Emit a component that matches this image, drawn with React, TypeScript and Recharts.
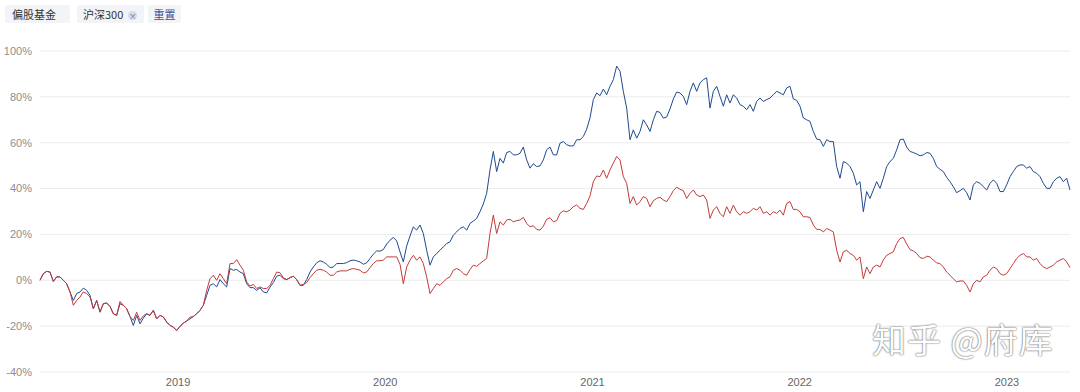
import React from 'react';
import { LineChart, Line, XAxis, YAxis, CartesianGrid } from 'recharts';

// weekly samples, cumulative return in %
const fundReturns = [
  0, 2.9, 3.9, 3.6, -0.5, 1.5, 1.5, 0, -1.5, -5.1,
  -8.8, -5.8, -5.1, -3.4, -4.4, -6.6, -12.4, -8.8, -13.9, -10.2,
  -9.9, -11.4, -14.6, -15.3, -10.2, -10.9, -12.4, -15.8, -19.7, -15.3,
  -19.0, -16.5, -14.6, -15.3, -13.1, -16.8, -15.3, -16.0, -18.2, -19.7,
  -20.4, -21.9, -20.1, -18.7, -17.8, -16.8, -15.8, -14.6, -13.1, -10.9,
  -6.6, -2.2, -1.5, -2.9, 0.3, -1.5, -2.9, 5.1, 4.4, 4.7,
  3.6, 2.9,
  -1.5, -3.2, -3.2, -4.4, -3.3, -5.1, -5.5, -3.0, -1.0, 1.8,
  2.2, 0.7, 0.3, 1.2, 1.8, 0.3, -2.2, -2.2, 0.3, 3.6,
  5.8, 7.6, 8.5, 8.0, 7.0, 5.5, 5.8, 7.3, 7.3, 7.3,
  7.7, 8.5, 8.8, 8.5, 8.0, 7.0, 7.6, 9.5, 11.4, 12.8,
  12.7, 13.4, 15.8, 17.5, 18.7, 17.2, 12.4, 8.0, 14.9, 19.3,
  23.3, 21.9, 24.1, 20.4, 13.1, 6.6, 10.2, 11.7, 13.1, 14.6,
  16.0,
  16.8, 19.7, 21.1, 22.6, 23.3, 21.9, 24.8, 25.8, 27.0, 29.9,
  33.3, 37.9, 48.1, 56.2, 47.4, 53.2, 51.1, 55.7, 56.2, 54.7,
  54.7, 55.4, 58.1, 52.5, 48.9, 50.8, 49.6, 49.9, 52.5, 56.9,
  58.1, 54.7, 54.7, 59.8, 60.5, 59.1, 58.6, 58.6, 61.3, 61.3,
  62.7, 65.9, 70.8, 78.8, 81.7, 80.5, 83.4, 80.9, 84.6, 87.5,
  93.4, 91.2, 82.4, 75.1, 61.3, 65.6, 62.0, 64.9, 70.0, 67.8,
  64.9, 70.0,
  73.7, 73.2, 70.7, 71.2, 74.7, 79.1, 82.1, 81.7, 80.2, 76.6,
  82.4, 86.1, 82.4, 86.1, 87.5, 88.3, 75.1, 82.4, 84.6, 80.2,
  75.9, 80.9, 77.3, 80.9, 79.5, 76.6, 75.9, 74.4, 76.6, 73.7,
  78.0, 79.5, 78.0, 78.8, 79.5, 80.9, 82.4, 81.7, 80.9, 83.9,
  84.6, 79.1, 78.5, 75.9, 70.8, 70.0, 69.3, 64.9, 61.6, 61.3,
  58.4, 61.3, 60.5, 60.5, 49.6, 44.5, 51.8, 51.1, 49.6, 46.7,
  41.6,
  43.0, 29.9, 38.7, 35.7, 39.4, 43.0, 40.1, 44.5, 49.6, 51.8,
  53.2, 56.9, 61.3, 61.6, 58.1, 56.2, 55.7, 55.1, 54.3, 54.7,
  55.7, 55.4, 53.2, 49.6, 48.4, 47.4, 44.9, 43.0, 40.8, 38.2,
  39.1, 40.1, 38.2, 35.0, 41.6, 43.0, 42.3, 40.8, 39.4, 42.3,
  43.8, 42.3, 38.7, 38.7, 41.6, 45.2, 47.4, 49.6, 50.3, 50.3,
  48.9, 49.6, 47.4, 46.7, 45.2, 42.3, 40.1, 40.1, 43.0, 44.5,
  45.2, 43.0, 44.5, 39.4,
];

const hs300Returns = [
  0, 2.9, 3.9, 3.6, -0.5, 1.5, 1.5, 0, -1.5, -5.1,
  -10.9, -8.8, -7.3, -5.1, -5.8, -7.3, -12.4, -8.8, -13.9, -10.2,
  -9.9, -11.4, -14.6, -15.3, -9.2, -10.9, -12.4, -15.8, -17.5, -13.9,
  -17.5, -15.5, -14.6, -15.3, -13.1, -16.8, -15.3, -16.0, -18.2, -19.7,
  -20.4, -21.9, -20.1, -18.7, -17.8, -16.1, -15.8, -14.6, -13.1, -10.9,
  -4.4, 0.7, 2.2, 0, 2.9, 0.7, -1.5, 7.3, 7.3, 9.0,
  6.6, 4.4,
  -0.7, -2.5, -1.8, -3.6, -2.9, -3.6, -3.6, -2.2, 0.7, 3.6,
  3.3, 1.1, 0.3, 1.1, 1.8, 0.3, -2.2, -1.8, -1.0, 1.2,
  2.9, 4.4, 4.8, 4.4, 3.6, 2.2, 2.2, 3.6, 4.1, 4.1,
  4.1, 4.8, 5.1, 4.8, 4.4, 3.2, 3.6, 5.5, 7.3, 8.5,
  8.5, 8.8, 10.2, 10.2, 10.2, 10.2, 7.0, -1.5, 5.8, 8.8,
  10.9, 8.8, 10.2, 7.3, 1.5, -5.8, -3.6, -1.5, -2.2, -0.7,
  0.7,
  1.5, 4.4, 5.1, 4.4, 2.9, 2.2, 4.7, 6.6, 6.1, 7.3,
  8.5, 9.5, 20.4, 28.4, 20.4, 25.5, 24.1, 26.3, 26.6, 25.5,
  26.0, 26.3, 27.4, 24.8, 23.3, 23.8, 22.2, 21.9, 23.6, 26.6,
  27.3, 25.5, 26.0, 29.2, 30.3, 29.9, 30.6, 32.1, 32.8, 31.4,
  30.9, 33.5, 36.8, 43.0, 45.5, 45.2, 48.1, 44.5, 48.1, 51.1,
  54.0, 52.5, 45.2, 42.3, 33.5, 36.5, 32.8, 34.3, 36.5, 35.7,
  32.1, 34.7,
  35.7, 36.2, 35.0, 34.3, 36.5, 39.1, 40.6, 39.7, 39.1, 35.7,
  37.9, 39.4, 37.2, 36.5, 37.2, 35.0, 27.0, 30.6, 32.1, 29.2,
  27.7, 32.1, 29.2, 32.8, 29.9, 28.4, 29.9, 29.2, 29.9, 31.4,
  30.6, 32.1, 29.2, 29.9, 28.4, 29.9, 29.2, 30.6, 28.4, 33.5,
  34.3, 30.9, 30.9, 29.9, 27.7, 27.7, 27.4, 24.1, 22.2, 22.2,
  21.1, 22.6, 21.9, 21.1, 13.1, 8.0, 12.4, 13.1, 11.7, 10.9,
  8.8,
  10.2, 0.7, 5.8, 2.9, 5.8, 6.6, 5.8, 8.8, 10.9, 11.7,
  12.4, 16.0, 18.2, 18.7, 15.8, 13.4, 12.8, 11.7, 9.9, 9.5,
  10.5, 10.2, 8.8, 7.6, 7.3, 5.8, 3.6, 2.2, 0.7, -0.7,
  -0.3, -0.3, -2.2, -5.1, -1.5, 0, -0.7, 1.5, 2.2, 4.4,
  5.8, 5.1, 2.9, 2.2, 2.9, 5.1, 7.3, 9.5, 10.9, 11.7,
  10.2, 10.2, 8.8, 9.5, 7.3, 5.8, 5.1, 5.8, 6.6, 8.0,
  8.8, 9.5, 8.0, 5.5,
];

const startYear = 2018.334;
const endYear = 2023.304;
const yearTicks = [2019, 2020, 2021, 2022, 2023];
const pctTicks = [-40, -20, 0, 20, 40, 60, 80, 100];

const step = (endYear - startYear) / (fundReturns.length - 1);
const data = fundReturns.map((v, i) => ({
  t: startYear + i * step,
  fund: v,
  hs300: hs300Returns[i],
}));

const pill: React.CSSProperties = {
  position: 'absolute',
  top: 5,
  height: 18,
  lineHeight: '18px',
  fontSize: 11,
  background: '#f2f4f8',
  borderRadius: 2,
  color: '#333',
  whiteSpace: 'nowrap',
  boxSizing: 'border-box',
};

export default function App() {
  return (
    <div
      style={{
        position: 'absolute',
        left: 0,
        top: 0,
        width: 1080,
        height: 392,
        background: '#fff',
        fontFamily: '"Noto Sans CJK SC", "Noto Sans", sans-serif',
        overflow: 'hidden',
      }}
    >
      <div style={{ ...pill, left: 5, width: 65, paddingLeft: 7 }}>偏股基金</div>
      <div style={{ ...pill, left: 77, width: 67, paddingLeft: 6 }}>
        沪深300
        <span
          style={{
            display: 'inline-block',
            width: 9,
            height: 9,
            marginLeft: 5,
            borderRadius: '50%',
            background: '#d5dcea',
            color: '#5a6f99',
            fontSize: 8,
            lineHeight: '9px',
            textAlign: 'center',
            verticalAlign: 'middle',
            position: 'relative',
            top: -1,
          }}
        >
          ×
        </span>
      </div>
      <div style={{ ...pill, left: 148, width: 33, textAlign: 'center', color: '#34559a' }}>重置</div>

      <div style={{ position: 'absolute', left: 0, top: 0 }}>
        <LineChart
          width={1080}
          height={392}
          data={data}
          margin={{ top: 51, right: 10, bottom: 0, left: 8 }}
        >
          <CartesianGrid vertical={false} stroke="#ececec" />
          <XAxis
            dataKey="t"
            type="number"
            domain={[startYear, endYear]}
            ticks={yearTicks}
            tickFormatter={(v) => String(Math.round(v))}
            axisLine={false}
            tickLine={false}
            tickSize={0}
            tickMargin={6}
            height={20}
            tick={{ fontSize: 11, fill: '#666', fontFamily: 'Liberation Sans, sans-serif' }}
          />
          <YAxis
            domain={[-40, 100]}
            ticks={pctTicks}
            tickFormatter={(v) => `${v}%`}
            axisLine={false}
            tickLine={false}
            tickSize={0}
            tickMargin={8}
            width={32}
            tick={{ fontSize: 11, fill: '#8e8e8e', fontFamily: 'Liberation Sans, sans-serif' }}
          />
          <Line
            dataKey="fund"
            type="linear"
            stroke="#1f4a8e"
            strokeWidth={1}
            dot={false}
            isAnimationActive={false}
          />
          <Line
            dataKey="hs300"
            type="linear"
            stroke="#c43a3a"
            strokeWidth={1}
            dot={false}
            isAnimationActive={false}
          />
        </LineChart>
      </div>

      <div
        style={{
          position: 'absolute',
          left: 872,
          top: 314,
          fontSize: 34,
          letterSpacing: 1,
          color: '#ffffff',
          textShadow: '0 0 2px rgba(0,0,0,0.55), 0 0 1px rgba(0,0,0,0.5)',
          whiteSpace: 'nowrap',
        }}
      >
        知乎 @府库
      </div>
    </div>
  );
}
